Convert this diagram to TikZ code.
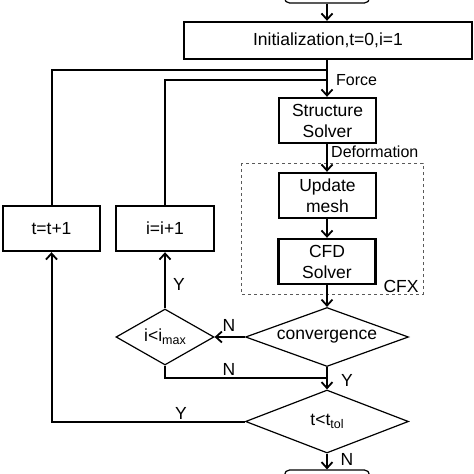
\documentclass[tikz,border=0pt]{standalone}
\usepackage{fontspec}
\setmainfont{Liberation Sans}
\usetikzlibrary{arrows.meta,shapes.geometric}
\tikzset{
  bigfont/.style={font=\fontsize{17.5}{21}\selectfont},
  lblfont/.style={font=\fontsize{16}{19}\selectfont},
  procbox/.style={draw, line width=2.4pt, rectangle, align=center, bigfont, inner sep=0pt},
  termbox/.style={draw, line width=1.2pt, rectangle, rounded corners=5pt, minimum width=85pt, minimum height=33pt},
  decision/.style={draw, line width=1.2pt, diamond, inner sep=0pt, bigfont},
  conn/.style={line width=2pt},
  arr/.style={conn, -{Straight Barb[length=6pt,width=11pt,line width=1.8pt]}},
  lbl/.style={bigfont, inner sep=1pt},
}
\begin{document}
\begin{tikzpicture}[x=1pt,y=-1pt]
\useasboundingbox (0,0) rectangle (474,474);
\clip (0,0) rectangle (474,474);
\fill[white] (0,0) rectangle (474,474);
% nodes
\node[termbox] (start) at (327,-13.5) {};
\node[procbox, minimum width=288pt, minimum height=37pt] (init) at (328,40.5) {Initialization,t=0,i=1};
\node[procbox, minimum width=97pt, minimum height=45pt] (ss) at (327.5,120.5) {Structure\\Solver};
\node[procbox, minimum width=97pt, minimum height=45pt] (um) at (327.5,195.5) {Update\\mesh};
\node[procbox, minimum width=97pt, minimum height=45pt] (cfd) at (327,261.5) {CFD\\Solver};
\node[procbox, minimum width=98pt, minimum height=45pt] (inci) at (165,228.5) {i=i+1};
\node[procbox, minimum width=97pt, minimum height=45pt] (inct) at (51.5,228.5) {t=t+1};
\node[decision, minimum width=163pt, minimum height=59pt, aspect=2.76] (conv) at (327,337) {convergence};
\node[decision, minimum width=98pt, minimum height=56pt, aspect=1.75] (imax) at (165,337) {i<i\raisebox{-0.35ex}{\fontsize{12.5}{14}\selectfont max}};
\node[decision, minimum width=163pt, minimum height=63pt, aspect=2.59] (ttol) at (327,421.5) {t<t\raisebox{-0.35ex}{\fontsize{12.5}{14}\selectfont tol}};
\node[termbox] (stop) at (327,486.5) {};
% dashed CFX frame
\draw[dashed, line width=1pt, draw=black!65] (241,163) rectangle (423,294);
\node[lbl] (cfx) at (401,286) {CFX};
% junction coordinates
\coordinate (jt) at (327,70);
\coordinate (ji) at (327,80);
\coordinate (jn) at (327,378);
\coordinate (imaxbot) at (165,378);
% connectors
\draw[arr] (start.south) -- (start.south |- init.north);
\draw[arr] (start.south |- init.south) -- (start.south |- ss.north);
\draw[conn] (inct.north) -- (inct.north |- jt) -- (jt);
\draw[conn] (inci.north) -- (inci.north |- ji) -- (ji);
\draw[arr] (start.south |- ss.south) -- (start.south |- um.north);
\draw[arr] (start.south |- um.south) -- (start.south |- cfd.north);
\draw[arr] (start.south |- cfd.south) -- (conv.north);
\draw[arr] (conv.west) -- (imax.east);
\draw[arr] (imax.north) -- (inci.south);
\draw[conn] (imax.south) -- (imaxbot) -- (jn);
\draw[arr] (conv.south) -- (ttol.north);
\draw[arr] (ttol.west) -- (ttol.west -| inct.south) -- (inct.south);
\draw[arr] (ttol.south) -- (ttol.south |- stop.north);
% labels
\node[lblfont, anchor=west, inner sep=0pt] (force) at (336,80) {Force};
\node[lblfont, anchor=west, inner sep=0pt] (deform) at (331,152) {Deformation};
\node[lbl] (nconv) at (229,325) {N};
\node[lbl] (yimax) at (179,284) {Y};
\node[lbl] (nimax) at (229,369) {N};
\node[lbl] (yconv) at (347,380) {Y};
\node[lbl] (yttol) at (181,413) {Y};
\node[lbl] (nttol) at (347,459) {N};
\end{tikzpicture}
\end{document}
